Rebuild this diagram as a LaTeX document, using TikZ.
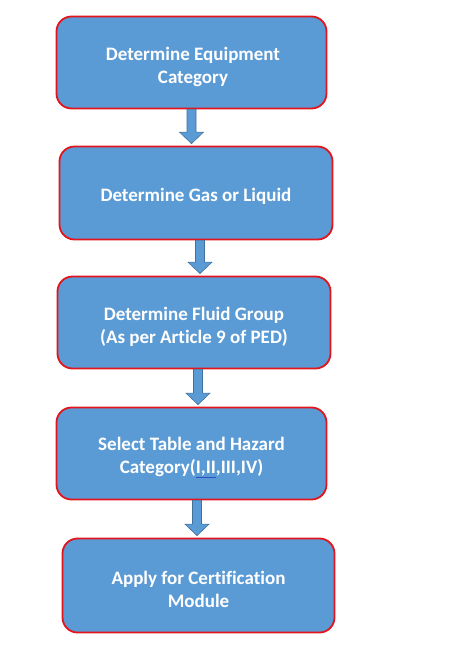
\documentclass[tikz,border=0pt]{standalone}
\usepackage{fontspec}
\setmainfont{Carlito}[Ligatures=NoCommon]
\usetikzlibrary{calc}
\definecolor{boxblue}{HTML}{5B9BD5}
\definecolor{boxred}{HTML}{E3141B}
\definecolor{arrowedge}{HTML}{41719C}
\definecolor{ulblue}{HTML}{2F4FC8}
\newcommand{\blockarrow}[3]{%
  \draw[fatarrow] let \p1=(#2.south), \p2=(#3.north) in
    ({#1pt-4.5pt},\y1) -- ({#1pt+4.5pt},\y1) -- ({#1pt+4.5pt},\y2+13.5pt)
    -- ({#1pt+12pt},\y2+13.5pt) -- ({#1pt},\y2+2pt) -- ({#1pt-12pt},\y2+13.5pt)
    -- ({#1pt-4.5pt},\y2+13.5pt) -- cycle;}
\begin{document}
\begin{tikzpicture}[x=1pt,y=-1pt,
  stepbox/.style={draw=boxred, line width=1.8pt, fill=boxblue, rounded corners=15pt, inner sep=0pt},
  steptext/.style={text=white, font=\fontsize{19}{23}\selectfont\bfseries, align=center, inner sep=0pt},
  fatarrow/.style={fill=boxblue, draw=arrowedge, line width=0.6pt, line join=miter}]
\useasboundingbox (0,0) rectangle (474,651);
\node[stepbox, minimum width=270pt, minimum height=92pt] (b1) at (191.5,62.5) {};
\node[stepbox, minimum width=273pt, minimum height=93pt] (b2) at (196,193) {};
\node[stepbox, minimum width=273pt, minimum height=92pt] (b3) at (194,322.5) {};
\node[stepbox, minimum width=270pt, minimum height=92pt] (b4) at (191.5,453.5) {};
\node[stepbox, minimum width=272pt, minimum height=94pt] (b5) at (198.5,585.5) {};
\node[steptext] (t1) at ($(b1.center)+(1.5,4)$) {Determine Equipment\\Category};
\node[steptext] (t2) at ($(b2.center)+(0,3)$) {Determine Gas or Liquid};
\node[steptext] (t3) at ($(b3.center)+(0,4)$) {Determine Fluid Group\\(As per Article 9 of PED)};
\node[steptext] (t4) at ($(b4.center)+(0,4)$) {Select Table and Hazard\\Category({\color{ulblue}\underline{\textcolor{white}{I,II}}},III,IV)};
\node[steptext] (t5) at ($(b5.center)+(0,4)$) {Apply for Certification\\Module};
\blockarrow{191.5}{b1}{b2}
\blockarrow{200}{b2}{b3}
\blockarrow{198}{b3}{b4}
\blockarrow{197}{b4}{b5}
\end{tikzpicture}
\end{document}
